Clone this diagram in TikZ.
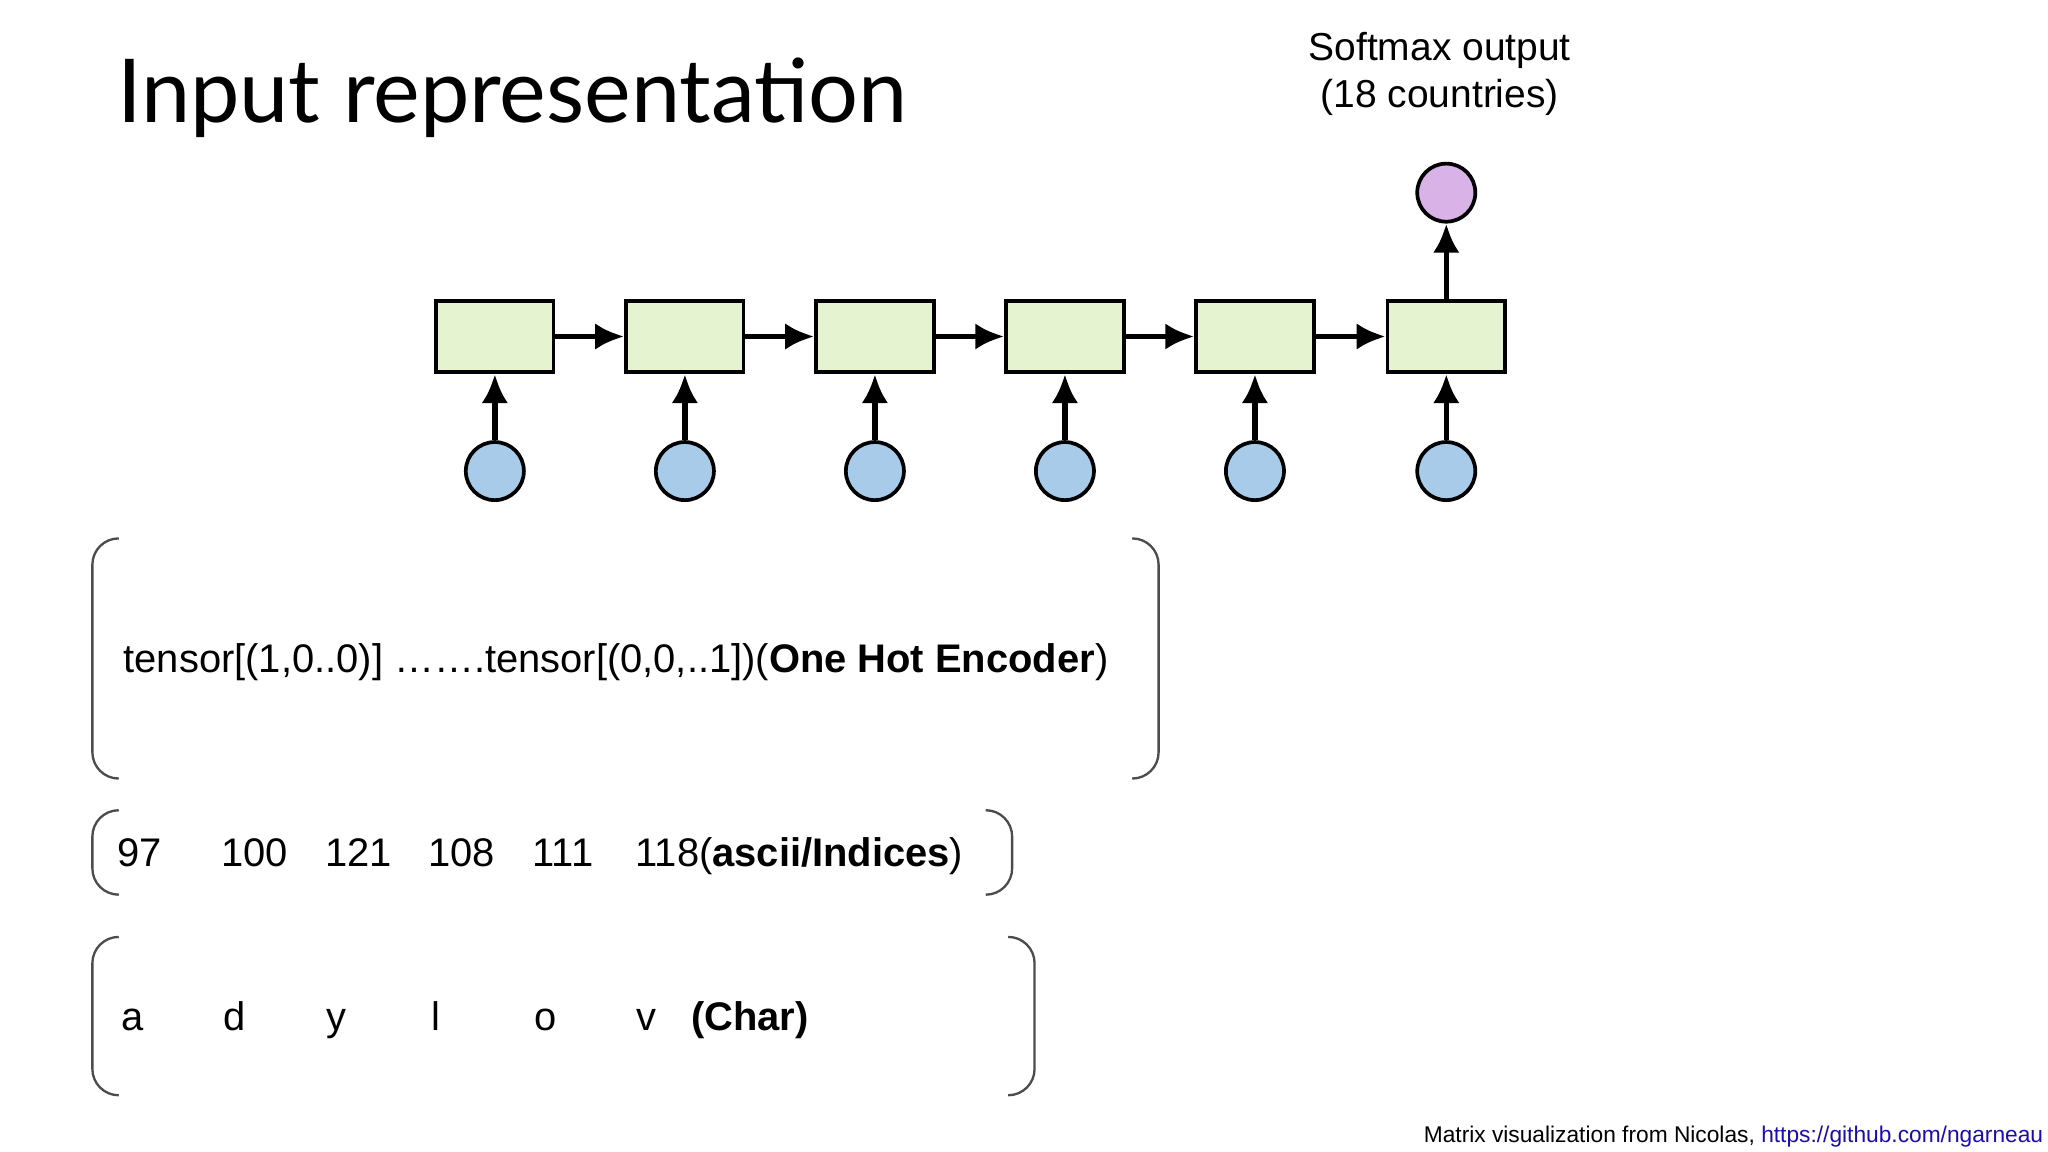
\documentclass[tikz,border=0pt]{standalone}
\usepackage{fontspec}
\setmainfont{Liberation Sans}
\newfontfamily\titlefont{Lato}
\usetikzlibrary{arrows.meta}
\definecolor{cellgreen}{HTML}{E6F3D0}
\definecolor{inblue}{HTML}{A9CBEA}
\definecolor{outpurple}{HTML}{D9B3E8}
\definecolor{linkblue}{HTML}{1A0DAB}
\tikzset{
  cell/.style={rectangle,draw,thick,fill=cellgreen,minimum width=0.89cm,minimum height=0.54cm,inner sep=0pt},
  in node/.style={circle,draw,thick,fill=inblue,minimum size=0.44cm,inner sep=0pt},
  out node/.style={circle,draw,thick,fill=outpurple,minimum size=0.44cm,inner sep=0pt},
  flow/.style={-{Latex[length=2.2mm,width=2mm]},line width=1.2pt},
  txt/.style={font=\fontsize{8.6pt}{9pt}\selectfont,anchor=base west,inner sep=0pt},
  brace/.style={draw=black!70,line width=0.5pt}
}
\begin{document}
\begin{tikzpicture}[x=0.01cm,y=-0.01cm]
  \useasboundingbox (0,0) rectangle (1552,873);

  \node[anchor=base west,inner sep=0pt,font=\titlefont\fontsize{19pt}{22pt}\selectfont] (title) at (88,93) {Input representation};
  \node[align=center,inner sep=0pt,font=\fontsize{8.4pt}{10pt}\selectfont] (soft) at (1091,56) {Softmax output\\(18 countries)};

  % recurrent cells with inputs
  \foreach \i/\x in {1/375,2/519,3/663,4/807,5/951,6/1096} {
    \node[cell] (c\i) at (\x,255) {};
    \node[in node] (x\i) at (\x,357) {};
    \draw[flow] (x\i) -- (c\i);
  }
  \foreach \i/\j in {1/2,2/3,3/4,4/5,5/6}
    \draw[flow] (c\i) -- (c\j);

  \node[out node] (y) at (1096,146) {};
  \draw[flow] (c6) -- (y);

  % brackets
  \foreach \a/\b/\t/\u in {70/878/408/590,70/767/614/678,70/784/710/830} {
    \draw[brace] (\a+20,\t) to[out=180,in=90] (\a,\t+20) -- (\a,\u-20) to[out=-90,in=180] (\a+20,\u);
    \draw[brace] (\b-20,\t) to[out=0,in=90] (\b,\t+20) -- (\b,\u-20) to[out=-90,in=0] (\b-20,\u);
  }

  \node[txt] (onehot) at (93,510) {tensor[(1,0..0)] …….tensor[(0,0,..1])(\textbf{One Hot Encoder})};

  \foreach \v/\x in {97/88,100/167,121/246,108/324,111/403} 
    \node[txt] (n\v) at (\x,657) {\v};
  \node[txt] (n118) at (481,657) {118(\textbf{ascii/Indices})};

  \foreach \c/\x in {a/91,d/169,y/247,l/326,o/404,v/482}
    \node[txt] (ch\c) at (\x,781) {\c};
  \node[txt] (charlbl) at (523,781) {\textbf{(Char)}};

  \node[anchor=base east,inner sep=0pt,font=\fontsize{4.9pt}{6pt}\selectfont] (credit) at (1549,866)
    {Matrix visualization from Nicolas, \textcolor{linkblue}{\underline{https://github.com/ngarneau}}};
\end{tikzpicture}
\end{document}
